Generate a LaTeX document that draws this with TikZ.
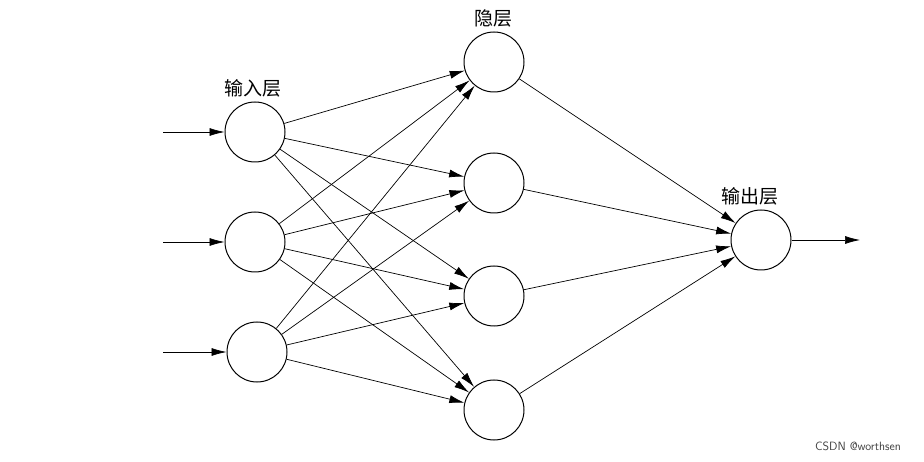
\documentclass[tikz,border=0pt]{standalone}
\usepackage{fontspec}
\newfontfamily\cjk{Noto Sans CJK SC}
\usetikzlibrary{arrows.meta}
\begin{document}
\begin{tikzpicture}[x=1pt,y=-1pt,
  neuron/.style={circle,draw,line width=1pt,minimum size=60pt,inner sep=0pt},
  conn/.style={line width=0.7pt,-{Latex[length=15pt,width=8pt]}},
  lbl/.style={font=\cjk\fontsize{19}{19}\selectfont}]
\useasboundingbox (0,0) rectangle (924,462);
\node[neuron] (i1) at (255,132) {};
\node[neuron] (i2) at (255,242) {};
\node[neuron] (i3) at (257,352) {};
\node[neuron] (h1) at (494,62) {};
\node[neuron] (h2) at (494,183) {};
\node[neuron] (h3) at (494,296) {};
\node[neuron] (h4) at (494,410) {};
\node[neuron] (o) at (761,240) {};
\node[lbl] (li) at (253,88) {输入层};
\node[lbl] (lh) at (493,18) {隐层};
\node[lbl] (lo) at (750,196) {输出层};
\coordinate (a1) at (163,132);
\coordinate (a2) at (163,242);
\coordinate (a3) at (163,352);
\coordinate (oe) at (860,240);
\draw[conn] (a1) -- (i1);
\draw[conn] (a2) -- (i2);
\draw[conn] (a3) -- (i3);
\foreach \i in {i1,i2,i3}{\foreach \h in {h1,h2,h3,h4}{\draw[conn] (\i) -- (\h);}}
\foreach \h in {h1,h2,h3,h4}{\draw[conn] (\h) -- (o);}
\draw[conn] (o) -- (oe);
\node[font=\sffamily\fontsize{12}{12}\selectfont,text=black!75] (wm) at (858,446) {CSDN @worthsen};
\end{tikzpicture}
\end{document}
